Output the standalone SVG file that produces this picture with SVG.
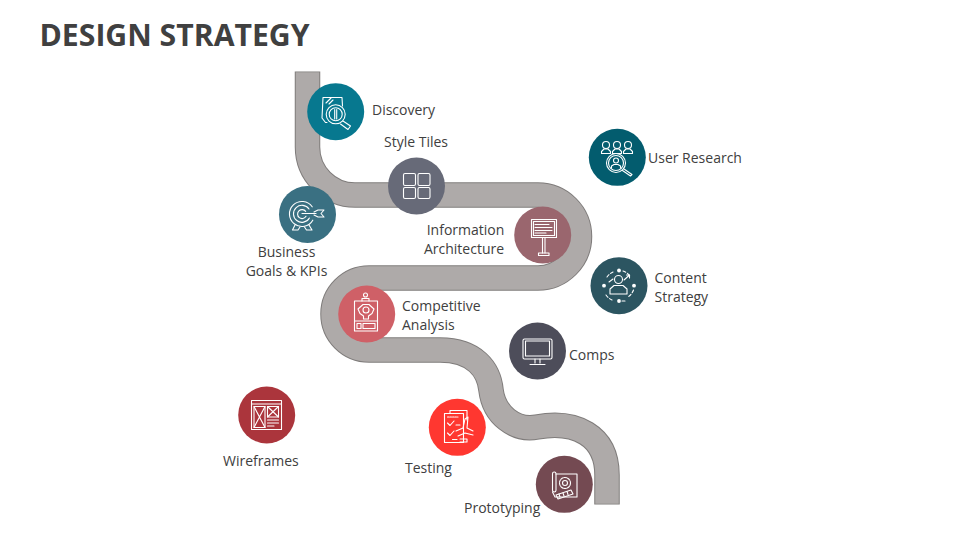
<svg xmlns="http://www.w3.org/2000/svg" width="960" height="540" viewBox="0 0 960 540">
<style>
text{font-family:"Open Sans","Noto Sans","Liberation Sans",sans-serif;font-size:14px;fill:#404040}
.title{font-size:30.200px;font-weight:700;fill:#404040}
.i{fill:none;stroke:#fff;stroke-width:1.100;stroke-linejoin:round;stroke-linecap:round}
.f{fill:#fff;stroke:none}
.road{fill:none;stroke-linecap:butt;stroke-linejoin:round}
</style>
<rect width="960" height="540" fill="#fff"/>
<text class="title" x="39.500" y="45.500">DESIGN STRATEGY</text>
<g id="connectors">
<path class="road" stroke="#7f7c7b" stroke-width="25.500" d="M307.500 71.500V147A47.500 48 0 0 0 355 195H538A41.500 41.500 0 0 1 538 278H369A36 36 0 0 0 369 350H440C475 350 489 370 491 390C494 415 515 431 537 427C575 420 607 435 607 475V504.500"/>
<path class="road" stroke="#aeaaa9" stroke-width="23.500" d="M307.500 72.300V147A47.500 48 0 0 0 355 195H538A41.500 41.500 0 0 1 538 278H369A36 36 0 0 0 369 350H440C475 350 489 370 491 390C494 415 515 431 537 427C575 420 607 435 607 475V503.700"/>
</g>
<g id="discovery">
<circle cx="335.700" cy="111.700" r="28.500" fill="#07788f"/>
<g class="i"><path d="M323 97.500H342L342.500 106M323 97.500L322 118L325.500 122.500H327"/><path d="M326 103L331 98M329 104L333 100"/><circle cx="335.700" cy="114.300" r="9.500"/><circle cx="335.700" cy="114.300" r="6.500"/><path d="M334.700 109.500V119M336.700 109.500V119"/><path d="M343 121L350.500 126L348 129.500L340.500 124"/></g>
<text x="372" y="115">Discovery</text>
</g>
<g id="style-tiles">
<circle cx="416.500" cy="186" r="28.500" fill="#676a78"/>
<g class="i"><rect x="403.500" y="173.500" width="12" height="12" rx="1.500"/><rect x="418" y="173.500" width="12" height="12" rx="1.500"/><rect x="403.500" y="187.500" width="12" height="11" rx="1.500"/><rect x="418" y="187.500" width="12" height="11" rx="1.500"/></g>
<text x="384" y="147">Style Tiles</text>
</g>
<g id="business-goals">
<circle cx="307.500" cy="214.500" r="28.500" fill="#3a7082"/>
<g class="i"><path d="M312.200 206.800A12.500 12.500 0 1 0 312.800 220.200"/><path d="M309 209A8.500 8.500 0 1 0 309.400 218"/><path d="M305.700 211.400A4.500 4.500 0 1 0 306 216.300"/><path d="M302 213.500H316"/><path d="M314 212L318 210H324L321 213.500L324 217H318L314 215"/><path d="M295 225L292.500 230H298L300 227M309 225L312 230H306.500L304.500 227"/></g>
<text text-anchor="middle" x="286.500" y="257">Business</text>
<text text-anchor="middle" x="286.500" y="276">Goals &amp; KPIs</text>
</g>
<g id="information-architecture">
<circle cx="542.700" cy="235" r="28.500" fill="#9a666e"/>
<g class="i"><rect x="531.500" y="219.500" width="25" height="18"/><rect x="533.500" y="221.500" width="21" height="14"/><path d="M535 224.500H549M535 227.500H552M535 230.500H552M535 233H546"/><path d="M542.500 238V253M545 238V253"/><rect x="538.500" y="253" width="10.500" height="2.500"/></g>
<text text-anchor="middle" x="465.500" y="235">Information</text>
<text text-anchor="middle" x="464" y="254">Architecture</text>
</g>
<g id="user-research">
<circle cx="617.300" cy="157.300" r="28.500" fill="#035c6e"/>
<g class="i"><circle cx="606" cy="145" r="3.500"/><path d="M601.500 153.500V151.500L604 149H608L610.500 151.500V153.500Z"/><circle cx="617" cy="145" r="3.500"/><path d="M612.500 153.500V151.500L615 149H619L621.500 151.500V153.500Z"/><circle cx="628" cy="145" r="3.500"/><path d="M623.500 153.500V151.500L626 149H630L632.500 151.500V153.500Z"/><circle cx="616" cy="163" r="9.500"/><circle cx="616" cy="163" r="7.500"/><circle cx="616" cy="160.500" r="2.500"/><path d="M611.500 168V166L614 164.500H618L620.500 166V168"/><path d="M624 169L632 174.500L630.500 176L622.500 170.500"/></g>
<text x="648" y="163">User Research</text>
</g>
<g id="content-strategy">
<circle cx="619" cy="285.700" r="28.500" fill="#2c5561"/>
<g class="i"><path d="M607 277A15 15 0 0 1 613 272M623 271A15 15 0 0 1 630 276M633.500 290A15 15 0 0 1 628 297M622 301H625M606 295A15 15 0 0 0 612 300" stroke-dasharray="3 2"/><circle cx="618.500" cy="279.500" r="4"/><path d="M610 294V289L614 285.500H623L627 289V294Z"/><path d="M609 282L613 279M624 280L629 275.500M626.500 275H629.500V278"/></g>
<g class="f"><circle cx="619" cy="270.500" r="1.900"/><circle cx="619" cy="301" r="1.900"/><circle cx="604" cy="285.700" r="1.900"/><circle cx="634" cy="285.700" r="1.900"/></g>
<text x="654.500" y="283">Content</text>
<text x="654.500" y="302">Strategy</text>
</g>
<g id="competitive-analysis">
<circle cx="366.700" cy="314" r="28.500" fill="#cf6067"/>
<g class="i"><rect x="354.500" y="301" width="23" height="30"/><path d="M354.500 321H377.500"/><circle cx="365.500" cy="295" r="2"/><path d="M362 301V298.500H369V301"/><path d="M358 309L363 304.500H369L374 309L372 313.500L368.500 316V319H363.500V316L360 313.500Z"/><circle cx="366" cy="310" r="3"/><rect x="357" y="323.500" width="4" height="5"/><rect x="363" y="323.500" width="12" height="5"/></g>
<text x="402" y="311">Competitive</text>
<text x="402" y="330">Analysis</text>
</g>
<g id="comps">
<circle cx="537.500" cy="351" r="28.500" fill="#4d4d5a"/>
<g class="i"><rect x="523" y="339" width="29" height="20" rx="1.500"/><rect x="525.500" y="341" width="24" height="15"/><path d="M535 359V363M540 359V363M530 364.500H545"/></g>
<text x="569" y="360">Comps</text>
</g>
<g id="wireframes">
<circle cx="266.700" cy="415" r="28.500" fill="#ab353c"/>
<g class="i"><rect x="251.500" y="400.500" width="30" height="29"/><path d="M251.500 404H281.500"/><rect x="254" y="406.500" width="11" height="21"/><path d="M254 406.500L265 427.500M265 406.500L254 427.500"/><rect x="267.500" y="406.500" width="11" height="10.500"/><path d="M267.500 406.500L278.500 417M278.500 406.500L267.500 417"/><path d="M267.500 420H278.500M267.500 423H278.500M267.500 426H274"/></g>
<text x="223" y="466">Wireframes</text>
</g>
<g id="testing">
<circle cx="457.300" cy="427.300" r="28.500" fill="#ff3730"/>
<g class="i"><path d="M450 413.500V410.500H467L467 420"/><rect x="444.500" y="413.500" width="19" height="29"/><path d="M447.500 417H458" stroke-dasharray="1.500 1"/><path d="M447.500 423L450 425.500L454 421M447.500 433L450 435.500L454 431M452.500 439.500H457"/><path d="M456 425H460M456 431L463 428L465 419L468 417L467 428L473 431M458 436L465 433L473 435"/><path d="M460 439H467V442H460"/></g>
<text x="405" y="473">Testing</text>
</g>
<g id="prototyping">
<circle cx="564.300" cy="484.300" r="28.500" fill="#744a52"/>
<g class="i"><path d="M556 474H577V497H559"/><rect x="552.500" y="472" width="3.500" height="20" rx="1.700"/><path d="M552.500 492L555 497H559"/><circle cx="565" cy="483" r="5.500" stroke-dasharray="2.500 1"/><circle cx="565" cy="483" r="2.500"/><path d="M556 495L571 490L573 494L558 499Z"/><path d="M559 494L560 497M563 493L564 496M567 491.500L568 494.500"/></g>
<text x="464" y="513">Prototyping</text>
</g>
</svg>
